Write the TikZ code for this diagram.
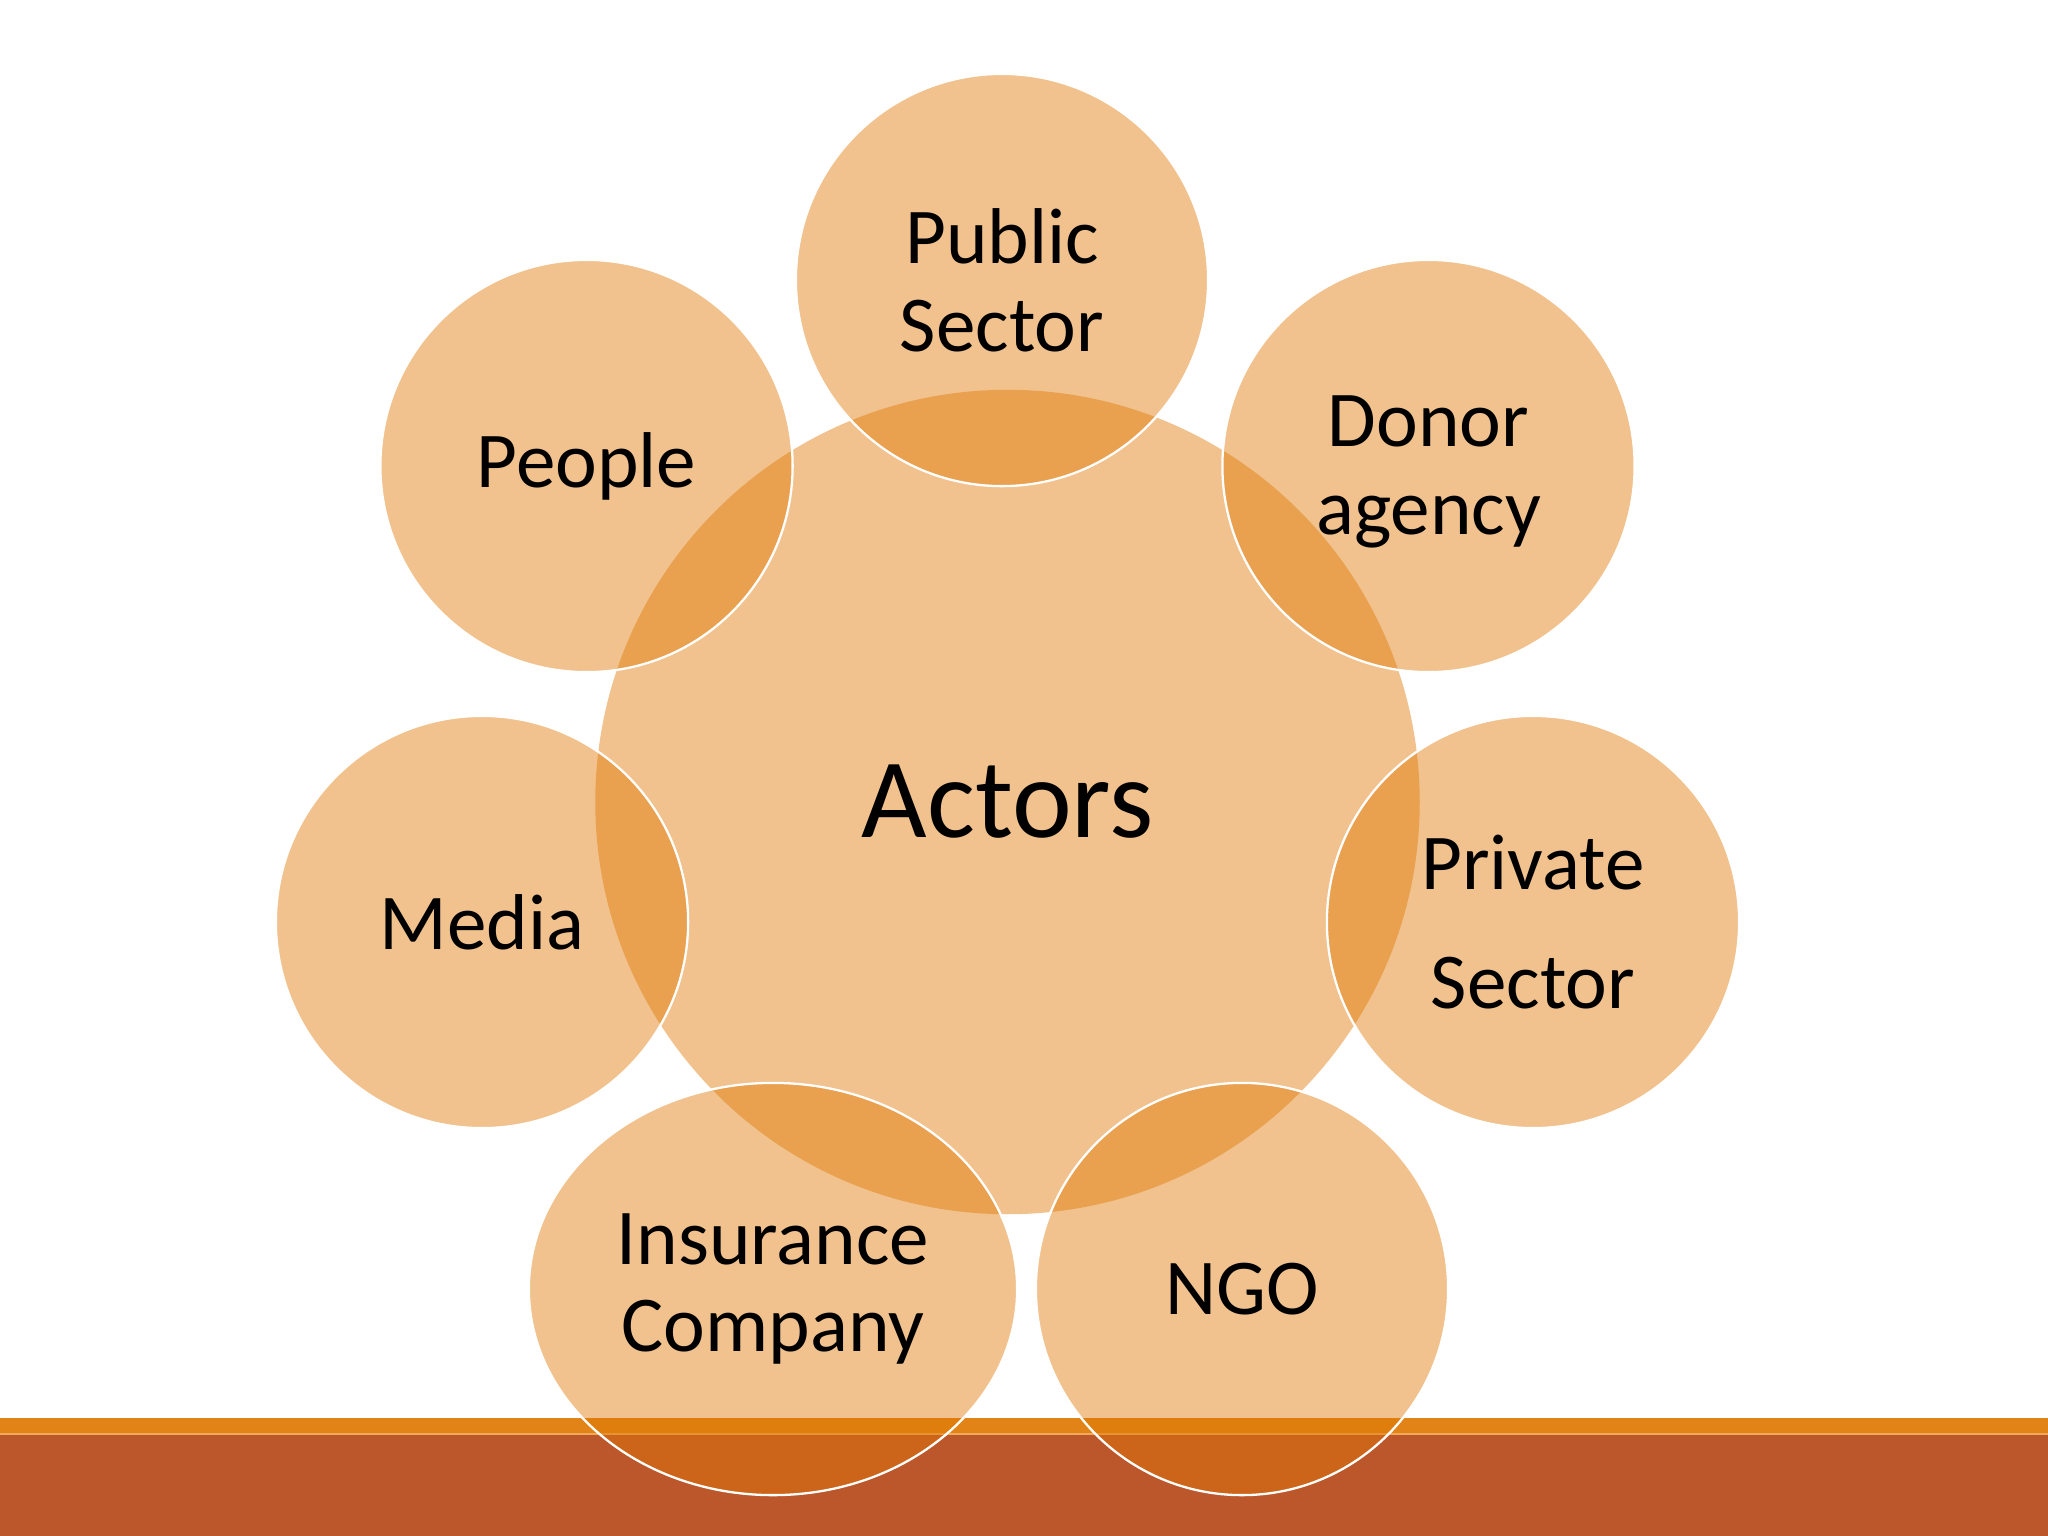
\documentclass[tikz,border=0pt]{standalone}
\usepackage{fontspec}
\setmainfont{Carlito}
\usetikzlibrary{shapes.geometric}
\definecolor{circfill}{RGB}{224,120,4}
\definecolor{barorange}{RGB}{225,131,22}
\definecolor{barline}{RGB}{240,170,90}
\definecolor{bardark}{RGB}{188,87,44}
\begin{document}
\begin{tikzpicture}[x=0.01cm,y=-0.01cm,
  hub/.style={circle, minimum size=8.24cm, inner sep=0pt, fill=circfill, fill opacity=0.45, text opacity=1, text=black, font=\fontsize{32.2}{38}\selectfont},
  bubble/.style={circle, minimum size=4.12cm, inner sep=0pt, fill=circfill, fill opacity=0.45, text opacity=1, text=black, draw=white, draw opacity=1, line width=0.65pt, font=\fontsize{22.5}{25}\selectfont, align=center},
  oval/.style={bubble, ellipse, minimum width=4.88cm, minimum height=4.12cm},
  label/.style={font=\fontsize{22.5}{25}\selectfont, align=center, text=black, inner sep=0pt}]
\useasboundingbox (0,0) rectangle (2048,1536);
\fill[white] (0,0) rectangle (2048,1536);
\fill[barorange] (0,1418) rectangle (2048,1434);
\fill[bardark] (0,1434) rectangle (2048,1536);
\fill[barline] (0,1432.5) rectangle (2048,1434.5);
\node[hub] (actors) at (1007.5,802) {Actors};
\node[bubble] (public) at (1002,280) {Public\\Sector};
\node[bubble] (people) at (586.5,466) {People};
\node[bubble] (donor) at (1428.5,466) {};
\node[label] (donortext) at (1428.5,472) {Donor\\agency};
\node[bubble] (media) at (482,922) {Media};
\node[bubble] (private) at (1533,922) {Private\\[9pt]Sector};
\node[oval] (insurance) at (773,1289) {Insurance\\Company};
\node[bubble] (ngo) at (1242,1289) {NGO};
\end{tikzpicture}
\end{document}
